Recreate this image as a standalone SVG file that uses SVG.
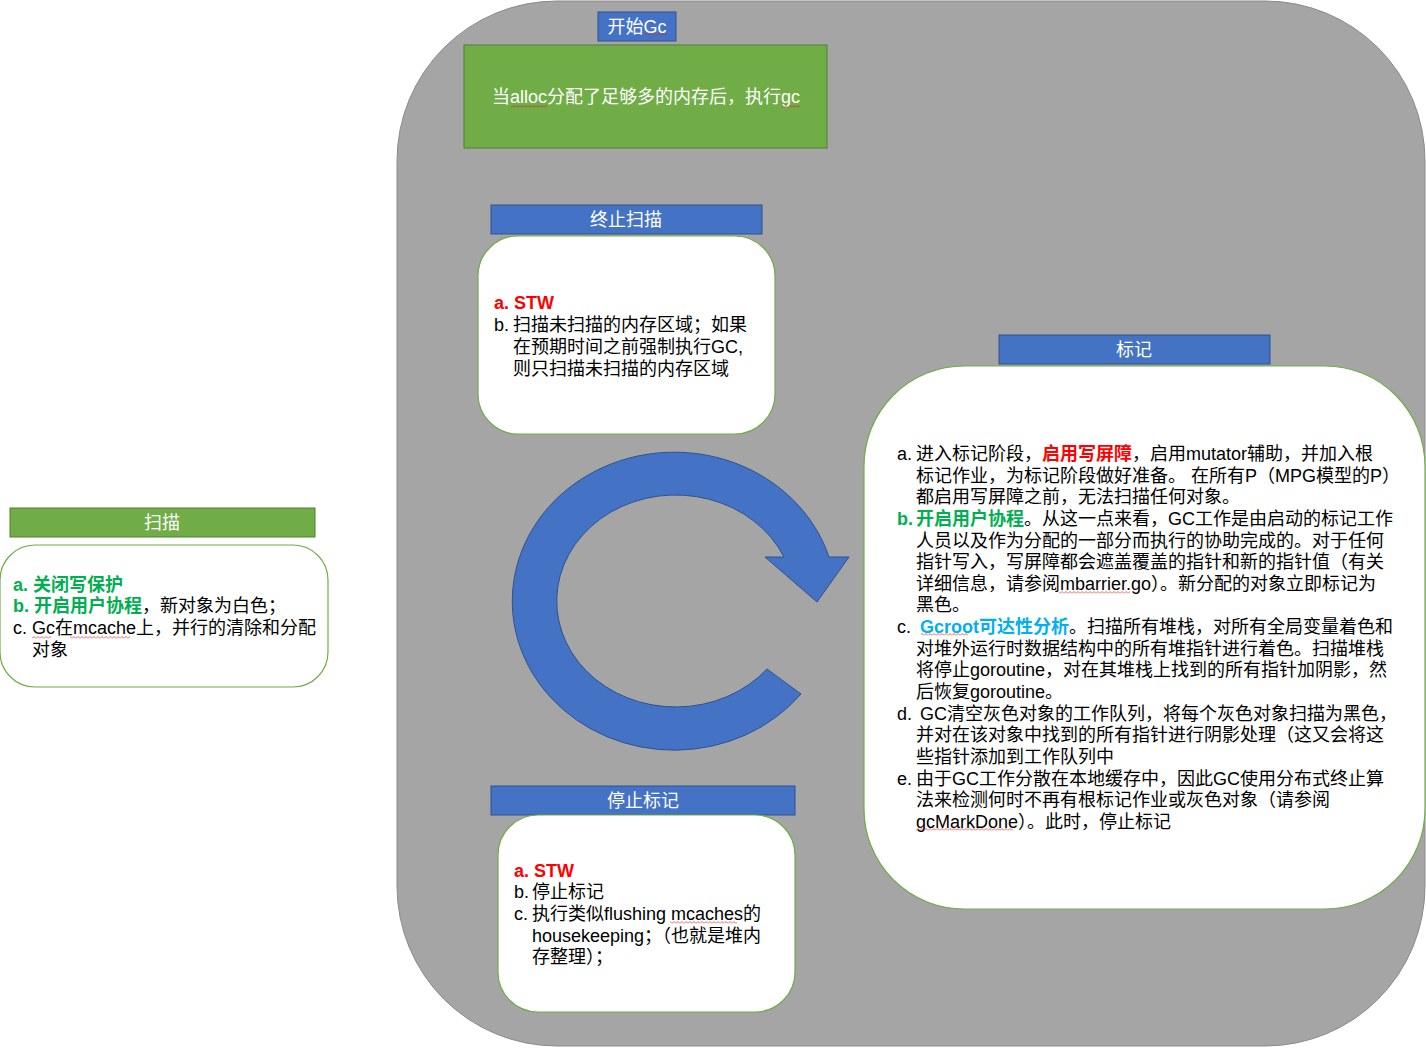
<svg xmlns="http://www.w3.org/2000/svg" width="1426" height="1054" viewBox="0 0 1426 1054">
<style>
text{font-family:"Liberation Sans","Noto Sans CJK SC",sans-serif;font-size:18px;fill:#000}
.hdr{fill:#4472c4;stroke:#2f528f;stroke-width:1}
.hdrg{fill:#70ad47;stroke:#507e32;stroke-width:1}
.ht{fill:#fff;text-anchor:middle}
.card{fill:#fff;stroke:#70ad47;stroke-width:1.2}
.red{fill:#ff0000;font-weight:bold}
.grn{fill:#00b050;font-weight:bold}
.blu{fill:#00b0f0;font-weight:bold}
.wv{fill:url(#wavy)}
</style>
<defs>
<pattern id="wavy" width="4" height="3" patternUnits="userSpaceOnUse"><path d="M0 2.5 L2 0.5 L4 2.5" fill="none" stroke="#e02020" stroke-width="0.7"/></pattern>
</defs>
<rect width="1426" height="1054" fill="#fff"/>
<g id="container">
<rect x="397" y="1" width="1028" height="1045" rx="160" ry="160" fill="#a5a5a5" stroke="#8a8a8a" stroke-width="1"/>
</g>
<g id="connectors">
<path d="M801 694 A162 149 0 1 1 829 557 L849 557 L817 602 L765 557 L784 557 A119 106 0 1 0 767 669 Z" fill="#4472c4" stroke="#2f528f" stroke-width="1"/>
</g>
<g id="start">
<rect class="hdr" x="598" y="12" width="78" height="29"/>
<text class="ht" x="637" y="33">开始Gc</text>
<rect class="wv" x="645" y="33" width="21" height="3"/>
<rect x="464" y="45" width="363" height="103" fill="#70ad47" stroke="#507e32" stroke-width="1"/>
<text class="ht" x="646" y="103">当alloc分配了足够多的内存后，执行gc</text>
<rect class="wv" x="511" y="105" width="36" height="3"/>
<rect class="wv" x="782" y="105" width="18" height="3"/>
</g>
<g id="terminate-scan">
<rect class="hdr" x="491" y="205" width="271" height="29"/>
<text class="ht" x="626" y="226">终止扫描</text>
<rect class="card" x="478" y="236" width="297" height="198" rx="40" ry="40"/>
<text x="494" y="309" class="red">a. STW</text>
<text x="494" y="331">b.</text>
<text x="513" y="331">扫描未扫描的内存区域；如果</text>
<text x="513" y="353">在预期时间之前强制执行GC,</text>
<text x="513" y="375">则只扫描未扫描的内存区域</text>
</g>
<g id="scan">
<rect class="hdrg" x="10" y="508" width="305" height="29"/>
<text class="ht" x="162" y="529">扫描</text>
<rect class="card" x="0" y="545" width="328" height="142" rx="35" ry="35"/>
<text x="13" y="591" class="grn">a. 关闭写保护</text>
<text x="13" y="612"><tspan class="grn">b. 开启用户协程</tspan>，新对象为白色；</text>
<text x="13" y="634">c.</text>
<text x="32" y="634">Gc在mcache上，并行的清除和分配</text>
<text x="32" y="656">对象</text>
<rect class="wv" x="32" y="636" width="19" height="3"/>
<rect class="wv" x="70" y="636" width="60" height="3"/>
</g>
<g id="mark">
<rect class="hdr" x="999" y="335" width="271" height="29"/>
<text class="ht" x="1134" y="356">标记</text>
<rect class="card" x="864" y="366" width="561" height="543" rx="100" ry="100"/>
<text x="897" y="460">a.</text>
<text x="916" y="460">进入标记阶段，<tspan class="red">启用写屏障</tspan>，启用mutator辅助，并加入根</text>
<text x="916" y="482">标记作业，为标记阶段做好准备。 在所有P（MPG模型的P）</text>
<text x="916" y="503">都启用写屏障之前，无法扫描任何对象。</text>
<text x="897" y="525" class="grn">b.</text>
<text x="916" y="525"><tspan class="grn">开启用户协程</tspan>。从这一点来看，GC工作是由启动的标记工作</text>
<text x="916" y="547">人员以及作为分配的一部分而执行的协助完成的。对于任何</text>
<text x="916" y="568">指针写入，写屏障都会遮盖覆盖的指针和新的指针值（有关</text>
<text x="916" y="590">详细信息，请参阅mbarrier.go）。新分配的对象立即标记为</text>
<text x="916" y="611">黑色。</text>
<text x="897" y="633">c.</text>
<text x="920" y="633"><tspan class="blu">Gcroot可达性分析</tspan>。扫描所有堆栈，对所有全局变量着色和</text>
<text x="916" y="655">对堆外运行时数据结构中的所有堆指针进行着色。扫描堆栈</text>
<text x="916" y="676">将停止goroutine，对在其堆栈上找到的所有指针加阴影，然</text>
<text x="916" y="698">后恢复goroutine。</text>
<text x="897" y="720">d.</text>
<text x="920" y="720">GC清空灰色对象的工作队列，将每个灰色对象扫描为黑色，</text>
<text x="916" y="741">并对在该对象中找到的所有指针进行阴影处理（这又会将这</text>
<text x="916" y="763">些指针添加到工作队列中</text>
<text x="897" y="785">e.</text>
<text x="916" y="785">由于GC工作分散在本地缓存中，因此GC使用分布式终止算</text>
<text x="916" y="806">法来检测何时不再有根标记作业或灰色对象（请参阅</text>
<text x="916" y="828">gcMarkDone）。此时，停止标记</text>
<rect class="wv" x="1059" y="591" width="71" height="3"/>
<rect class="wv" x="921" y="633" width="47" height="3"/>
<rect class="wv" x="916" y="828" width="97" height="3"/>
</g>
<g id="stop-mark">
<rect class="hdr" x="491" y="786" width="304" height="29"/>
<text class="ht" x="643" y="807">停止标记</text>
<rect class="card" x="498" y="815" width="297" height="197" rx="40" ry="40"/>
<text x="514" y="877" class="red">a. STW</text>
<text x="514" y="898">b.</text>
<text x="532" y="898">停止标记</text>
<text x="514" y="920">c.</text>
<text x="532" y="920">执行类似flushing mcaches的</text>
<text x="532" y="942">housekeeping；（也就是堆内</text>
<text x="532" y="963">存整理）；</text>
<rect class="wv" x="670" y="921" width="67" height="3"/>
</g>
</svg>
